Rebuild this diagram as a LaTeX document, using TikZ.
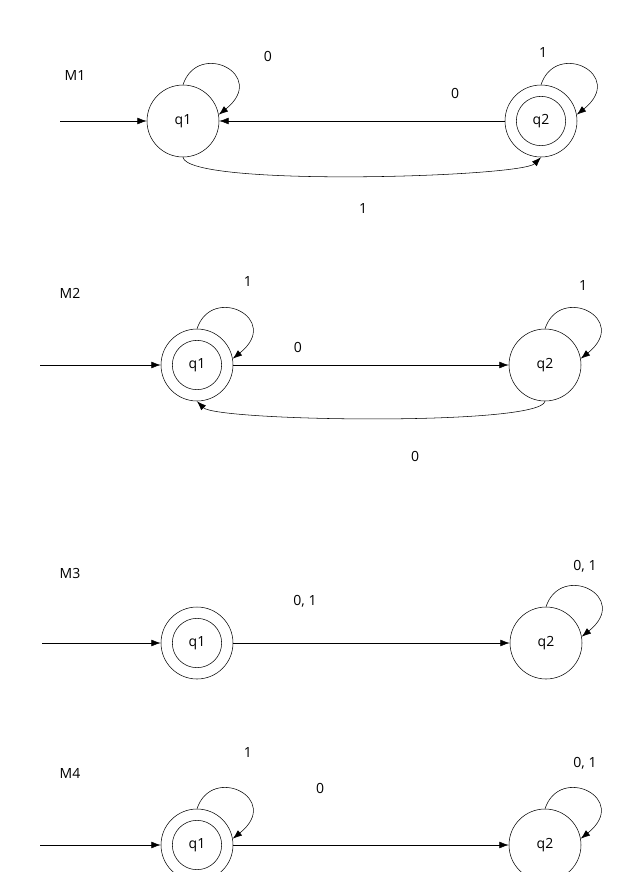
\documentclass[tikz,border=0pt]{standalone}
\usepackage{fontspec}
\setmainfont{Open Sans}
\usetikzlibrary{arrows.meta}
\tikzset{
  state/.style={circle,draw,minimum size=54pt,inner sep=0pt,font=\fontsize{10.5}{12}\selectfont},
  inner/.style={circle,draw,minimum size=37pt,inner sep=0pt},
  lbl/.style={inner sep=0.75pt,font=\fontsize{10.5}{12}\selectfont},
  edge/.style={-{Latex[length=7pt,width=5pt]}}
}
\begin{document}
\begin{tikzpicture}[x=0.75pt,y=0.75pt,yscale=-1,xscale=1]
\useasboundingbox (0,0) rectangle (642,872);

% M1
\node[lbl] (m1) at (75,75) {M1};
\coordinate (s1) at (60,121);
\node[state] (a1) at (183,121) {q1};
\node[state] (b1) at (541,121) {q2};
\node[inner] (b1in) at (b1) {};
\draw[edge] (s1) -- (a1);
\draw[edge] (a1.north) .. controls +(15,-45) and +(50,-40) .. (a1.10);
\draw[edge] (b1.north) .. controls +(15,-45) and +(50,-40) .. (b1.10);
\draw[edge] (b1.west) -- (a1.east);
\draw[edge] (a1.south) .. controls +(5,30) and +(-20,20) .. (b1.south);
\node[lbl] (l1a) at (268,56) {0};
\node[lbl] (l1b) at (543,52) {1};
\node[lbl] (l1c) at (455,93) {0};
\node[lbl] (l1d) at (363,208) {1};

% M2
\node[lbl] (m2) at (70,293) {M2};
\coordinate (s2) at (40,365);
\node[state] (a2) at (197,365) {q1};
\node[inner] (a2in) at (a2) {};
\node[state] (b2) at (545,365) {q2};
\draw[edge] (s2) -- (a2);
\draw[edge] (a2.north) .. controls +(15,-45) and +(50,-40) .. (a2.10);
\draw[edge] (b2.north) .. controls +(15,-45) and +(50,-40) .. (b2.10);
\draw[edge] (a2.east) -- (b2.west);
\draw[edge] (b2.south) .. controls +(-5,25) and +(20,20) .. (a2.south);
\node[lbl] (l2a) at (248,281) {1};
\node[lbl] (l2b) at (583,285) {1};
\node[lbl] (l2c) at (298,347) {0};
\node[lbl] (l2d) at (415,456) {0};

% M3
\node[lbl] (m3) at (70,573) {M3};
\coordinate (s3) at (42,643);
\node[state] (a3) at (197,643) {q1};
\node[inner] (a3in) at (a3) {};
\node[state] (b3) at (546,643) {q2};
\draw[edge] (s3) -- (a3);
\draw[edge] (a3.east) -- (b3.west);
\draw[edge] (b3.north) .. controls +(15,-45) and +(50,-40) .. (b3.10);
\node[lbl] (l3a) at (305,601) {0, 1};
\node[lbl] (l3b) at (585,566) {0, 1};

% M4
\node[lbl] (m4) at (70,773) {M4};
\coordinate (s4) at (40,845);
\node[state] (a4) at (197,845) {q1};
\node[inner] (a4in) at (a4) {};
\node[state] (b4) at (545,845) {q2};
\draw[edge] (s4) -- (a4);
\draw[edge] (a4.north) .. controls +(15,-45) and +(50,-40) .. (a4.10);
\draw[edge] (b4.north) .. controls +(15,-45) and +(50,-40) .. (b4.10);
\draw[edge] (a4.east) -- (b4.west);
\node[lbl] (l4a) at (248,752) {1};
\node[lbl] (l4b) at (585,763) {0, 1};
\node[lbl] (l4c) at (320,788) {0};
\end{tikzpicture}
\end{document}
